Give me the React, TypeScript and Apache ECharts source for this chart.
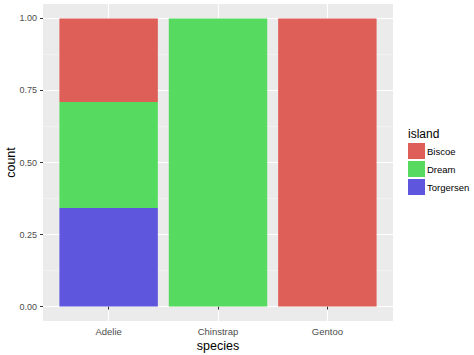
import React, { useEffect, useRef } from "react";
import * as echarts from "echarts";

const species = ["Adelie", "Chinstrap", "Gentoo"];
const islands = ["Biscoe", "Dream", "Torgersen"];
// proportions per species (Adelie, Chinstrap, Gentoo)
const biscoe = [0.29, 0, 1];
const dream = [0.368, 1, 0];
const torgersen = [0.342, 0, 0];
const yTicks = [0, 0.25, 0.5, 0.75, 1];
const yMinor = [0.125, 0.375, 0.625, 0.875];
const colors: Record<string, string> = {
  Biscoe: "#DD5F57",
  Dream: "#56DA5F",
  Torgersen: "#5E56DC",
};

const FONT = "Liberation Sans, Arial, Helvetica, sans-serif";

export default function App() {
  const ref = useRef<HTMLDivElement>(null);
  useEffect(() => {
    if (!ref.current) return;
    const chart = echarts.init(ref.current, undefined, { renderer: "svg" });
    const xPositions = species.map((_, i) => i + 1);
    // panel geometry (ggplot: discrete x range 0.4 .. 3.6)
    const pLeft = 43, pRight = 81, pTop = 4, pBottom = 34;
    const pWidth = 474 - pLeft - pRight;
    const unit = pWidth / 3.2;
    const bLeft = pLeft + 0.1 * unit;
    const bRight = 474 - bLeft - 3 * unit;
    const mk = (name: string, vals: number[]) => ({
      name,
      type: "bar",
      stack: "total",
      barWidth: "90%",
      itemStyle: { color: colors[name] },
      data: vals,
      xAxisIndex: 1,
      yAxisIndex: 2,
      z: 3,
    });
    chart.setOption({
      animation: false,
      backgroundColor: "#FFFFFF",
      textStyle: { fontFamily: FONT },
      grid: [
        {
          left: pLeft,
          right: pRight,
          top: pTop,
          bottom: pBottom,
          show: true,
          backgroundColor: "#EBEBEB",
          borderWidth: 0,
          outerBoundsMode: "none",
          containLabel: false,
        },
        {
          left: bLeft,
          right: bRight,
          top: pTop,
          bottom: pBottom,
          show: false,
          outerBoundsMode: "none",
          containLabel: false,
        },
      ],
      title: {
        text: "island",
        left: 408,
        top: 128,
        textStyle: { fontFamily: FONT, fontSize: 12, fontWeight: "normal", color: "#000" },
        padding: 0,
      },
      legend: {
        orient: "vertical",
        left: 408,
        top: 143,
        padding: 0,
        itemWidth: 17,
        itemHeight: 16,
        itemGap: 2,
        icon: "rect",
        data: islands,
        textStyle: { fontFamily: FONT, fontSize: 9.5, color: "#000", padding: [0, 0, 0, -3] },
        selectedMode: false,
      },
      xAxis: [
        {
          type: "value",
          gridIndex: 0,
          min: 0.4,
          max: 3.6,
          name: "species",
          nameLocation: "middle",
          nameGap: 18,
          nameMoveOverlap: false,
          nameTextStyle: { fontFamily: FONT, fontSize: 12.5, color: "#000" },
          axisLine: { show: false },
          axisTick: {
            show: true,
            length: 3,
            lineStyle: { color: "#333333", width: 1 },
            customValues: xPositions,
          },
          axisLabel: {
            customValues: xPositions,
            formatter: (v: number) => species[Math.round(v) - 1] ?? "",
            fontFamily: FONT,
            fontSize: 9.5,
            color: "#4D4D4D",
            margin: 5,
          },
          splitLine: { show: true, lineStyle: { color: "#FFFFFF", width: 1.1 } },
        },
        {
          type: "category",
          gridIndex: 1,
          data: species,
          show: false,
        },
      ],
      yAxis: [
        {
          type: "value",
          gridIndex: 0,
          min: -0.05,
          max: 1.05,
          name: "count",
          nameLocation: "middle",
          nameGap: 26,
          nameMoveOverlap: false,
          nameRotate: 90,
          nameTextStyle: { fontFamily: FONT, fontSize: 12.5, color: "#000" },
          axisLine: { show: false },
          axisTick: {
            show: true,
            length: 3,
            lineStyle: { color: "#333333", width: 1 },
            customValues: yTicks,
          },
          axisLabel: {
            customValues: yTicks,
            formatter: (v: number) => v.toFixed(2),
            fontFamily: FONT,
            fontSize: 9,
            color: "#4D4D4D",
            margin: 6,
          },
          splitLine: { show: true, lineStyle: { color: "#FFFFFF", width: 1.1 } },
        },
        {
          type: "value",
          gridIndex: 0,
          min: -0.05,
          max: 1.05,
          position: "left",
          axisLine: { show: false },
          axisTick: { show: false, customValues: yMinor },
          axisLabel: { show: false, customValues: yMinor },
          splitLine: { show: true, lineStyle: { color: "#F7F7F7", width: 0.6 } },
        },
        {
          type: "value",
          gridIndex: 1,
          min: -0.05,
          max: 1.05,
          show: false,
          splitLine: { show: false },
        },
      ],
      series: [
        mk("Torgersen", torgersen),
        mk("Dream", dream),
        mk("Biscoe", biscoe),
      ],
    });
    return () => chart.dispose();
  }, []);
  return (
    <div
      ref={ref}
      style={{ position: "fixed", left: 0, top: 0, width: 474, height: 355 }}
    />
  );
}
